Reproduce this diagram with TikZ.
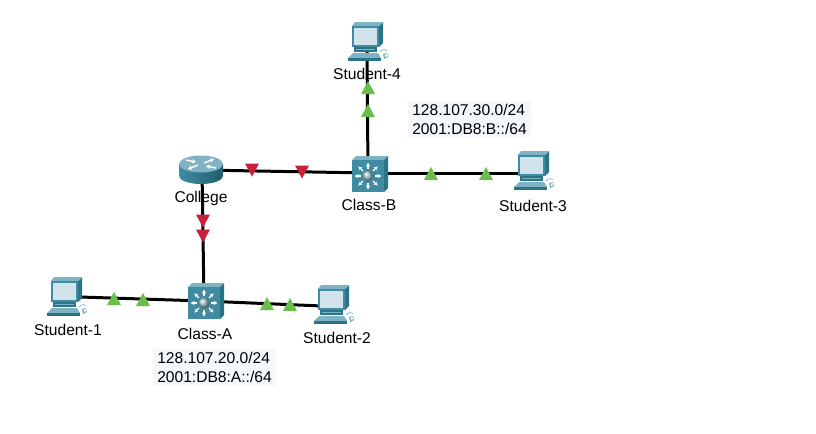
\documentclass[tikz,border=0pt]{standalone}
\usepackage{fontspec}
\setmainfont{Liberation Sans}
\usetikzlibrary{arrows.meta}
\definecolor{tealD}{HTML}{2A7488}
\definecolor{tealM}{HTML}{3F8CA2}
\definecolor{tealL}{HTML}{7FB2C2}
\definecolor{screenC}{HTML}{D3E3EC}
\definecolor{redT}{HTML}{C8203A}
\definecolor{greenT}{HTML}{6ABF4B}
\definecolor{noteC}{HTML}{F4F7FC}
\tikzset{
  lbl/.style={font=\fontsize{11.7pt}{14pt}\selectfont,inner sep=0pt,text=black},
  note/.style={lbl,fill=noteC,align=left,inner xsep=3pt,inner ysep=2.5pt},
  anchorpt/.style={inner sep=0pt,minimum size=0pt},
  link/.style={line width=2.25pt,black},
  pics/pcicon/.style={code={
    % monitor: side and top faces
    \fill[tealD] (12,-17) -- (16,-21) -- (16,0) -- (12,4) -- cycle;
    \fill[tealL] (-15,-17) -- (-12,-21) -- (16,-21) -- (12,-17) -- cycle;
    % monitor front with screen
    \fill[tealM] (-15,-17) rectangle (12,4);
    \fill[screenC] (-13,-15) rectangle (10,2);
    % stand
    \fill[tealD] (-13,4) -- (10,4) -- (10,9) -- (-13,9) -- cycle;
    \fill[tealL] (-11,5.5) rectangle (8,7);
    % keyboard
    \fill[tealL] (-14,10) -- (11,10) -- (14,15) -- (-19,15) -- cycle;
    \fill[tealD] (-19,15) rectangle (14,17.5);
    % mouse
    \draw[tealL,line width=.5pt] (13,9) .. controls (15,6) and (19,6) .. (20,8);
    \fill[tealL] (16,11) -- (20,10) -- (21,14) -- (17,16) -- cycle;
    \fill[white] (18,11.5) -- (20,11) -- (20.3,13) -- (18.3,14) -- cycle;
  }},
  pics/swicon/.style={code={
    \fill[tealL] (-16,-14) -- (-12,-18) -- (20,-18) -- (16,-14) -- cycle;
    \fill[tealD] (16,-14) -- (20,-18) -- (20,14) -- (16,18) -- cycle;
    \fill[tealM] (-16,-14) rectangle (16,18);
    \foreach \a in {0,45,...,315}{
      \draw[white,line width=.9pt,-{Stealth[length=3pt,width=3pt]}] (\a:7)++(0,2) -- ++(\a:6.5);
    }
    \shade[ball color=tealL!70!white] (0,2) circle[radius=5.5];
  }},
  pics/rticon/.style={code={
    \shade[left color=tealM,middle color=white!70!tealL,right color=tealD!80!black]
      (-22,-6) -- (-22,6) arc[start angle=180,end angle=0,x radius=22,y radius=8] -- (22,-6) -- cycle;
    \fill[tealL] (0,-6) ellipse[x radius=22,y radius=8.5];
    \draw[white,line width=1.1pt,-{Stealth[length=3pt,width=3.5pt]}] (-15,-10) -- (-5,-8);
    \draw[white,line width=1.1pt,-{Stealth[length=3pt,width=3.5pt]}] (15,-2) -- (5,-4);
    \draw[white,line width=1.1pt,-{Stealth[length=3pt,width=3.5pt]}] (-3,-5) -- (-13,-1);
    \draw[white,line width=1.1pt,-{Stealth[length=3pt,width=3.5pt]}] (3,-7) -- (13,-11);
  }},
  pics/tridown/.style={code={\fill[redT] (-7,-5.5) -- (7,-5.5) -- (0,7.5) -- cycle;}},
  pics/triup/.style={code={\fill[greenT] (-7,6) -- (7,6) -- (0,-7) -- cycle;}},
}
\begin{document}
\begin{tikzpicture}[x=0.75pt,y=-0.75pt]
\useasboundingbox (0,0) rectangle (816,433);
% device anchors
\node[anchorpt] (s4) at (367,50) {};
\node[anchorpt] (s3) at (520,173) {};
\node[anchorpt] (s1) at (80,297) {};
\node[anchorpt] (s2) at (322,306) {};
\node[anchorpt] (clb) at (368,173) {};
\node[anchorpt] (cla) at (204,301) {};
\node[anchorpt] (col) at (202,170) {};
% labels
\node[lbl] (l4) at (367,74) {Student-4};
\node[lbl] (l3) at (533,206) {Student-3};
\node[lbl] (l1) at (68,330) {Student-1};
\node[lbl] (l2) at (337,338) {Student-2};
\node[lbl] (lb) at (369,205) {Class-B};
\node[lbl] (la) at (205,334) {Class-A};
\node[lbl] (lc) at (201,198) {College};
\node[note,anchor=north west] (nb) at (408,101) {128.107.30.0/24\\2001:DB8:B::/64};
\node[note,anchor=north west] (na) at (153,349) {128.107.20.0/24\\2001:DB8:A::/64};
% links
\draw[link] (col) -- (clb);
\draw[link] (col) -- (cla);
\draw[link] (clb) -- (s4);
\draw[link] (clb) -- (s3);
\draw[link] (s1) -- (cla);
\draw[link] (cla) -- (s2);
% icons
\pic at (367,43) {pcicon};
\pic at (533,172) {pcicon};
\pic at (66,298) {pcicon};
\pic at (333,306) {pcicon};
\pic at (368,174) {swicon};
\pic at (204,301) {swicon};
\pic at (201,170) {rticon};
% link-state triangles
\pic at (252,169) {tridown};
\pic at (302,171) {tridown};
\pic at (203,220) {tridown};
\pic at (203,235) {tridown};
\pic at (368,88) {triup};
\pic at (368,111) {triup};
\pic at (431,174) {triup};
\pic at (486,174) {triup};
\pic at (114,299) {triup};
\pic at (143,300) {triup};
\pic at (267,304) {triup};
\pic at (290,305) {triup};
\end{tikzpicture}
\end{document}
